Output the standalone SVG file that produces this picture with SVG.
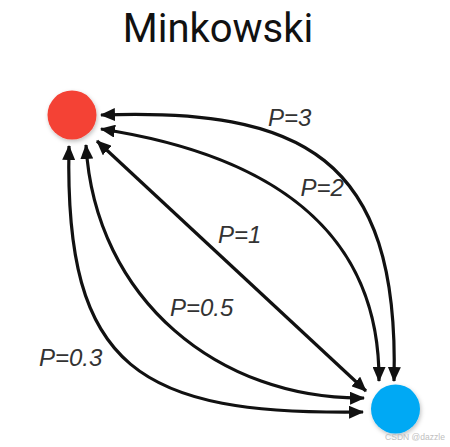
<svg xmlns="http://www.w3.org/2000/svg" width="450" height="447" viewBox="0 0 450 447">
<style>
.title{font-family:Roboto,"Liberation Sans",sans-serif;font-size:40px;fill:#111}
.lbl{font-family:"Liberation Sans",Arial,sans-serif;font-style:italic;font-size:24px;fill:#333}
.edge{fill:none;stroke:#111;stroke-width:3.2;marker-start:url(#ah);marker-end:url(#ah)}
.wm{font-family:"Liberation Sans",Arial,sans-serif;font-size:9px;fill:#c0c0c0}
</style>
<defs>
<marker id="ah" markerUnits="userSpaceOnUse" markerWidth="15" markerHeight="13" viewBox="0 0 15 13" refX="14" refY="6.5" orient="auto-start-reverse">
<path d="M0,0 L15,6.5 L0,13 Z" fill="#111"/>
</marker>
<filter id="sh" x="-30%" y="-30%" width="160%" height="160%">
<feDropShadow dx="1" dy="2" stdDeviation="2" flood-color="#000" flood-opacity="0.25"/>
</filter>
</defs>
<rect width="450" height="447" fill="#fff"/>
<text class="title" x="218" y="41.5" text-anchor="middle">Minkowski</text>
<g id="edges">
<path class="edge" d="M101,115 C300,108 400,155 394,381"/>
<path class="edge" d="M101,129 C270,155 380,230 379,381"/>
<path class="edge" d="M97,141 L366,391"/>
<path class="edge" d="M86,145 C95,300 220,400 364,398"/>
<path class="edge" d="M69,146 C64,370 140,415 363,412"/>
</g>
<g id="labels">
<text class="lbl" x="268" y="125.5">P=3</text>
<text class="lbl" x="300.5" y="196">P=2</text>
<text class="lbl" x="218" y="243">P=1</text>
<text class="lbl" x="170" y="316">P=0.5</text>
<text class="lbl" x="39" y="365.5">P=0.3</text>
</g>
<g id="node-red"><circle cx="72" cy="115" r="24.5" fill="#f44336" filter="url(#sh)"/></g>
<g id="node-blue"><circle cx="395.5" cy="409" r="24.5" fill="#03a9f4" filter="url(#sh)"/></g>
<text class="wm" x="385" y="440" textLength="60" lengthAdjust="spacingAndGlyphs">CSDN @dazzle</text>
</svg>
